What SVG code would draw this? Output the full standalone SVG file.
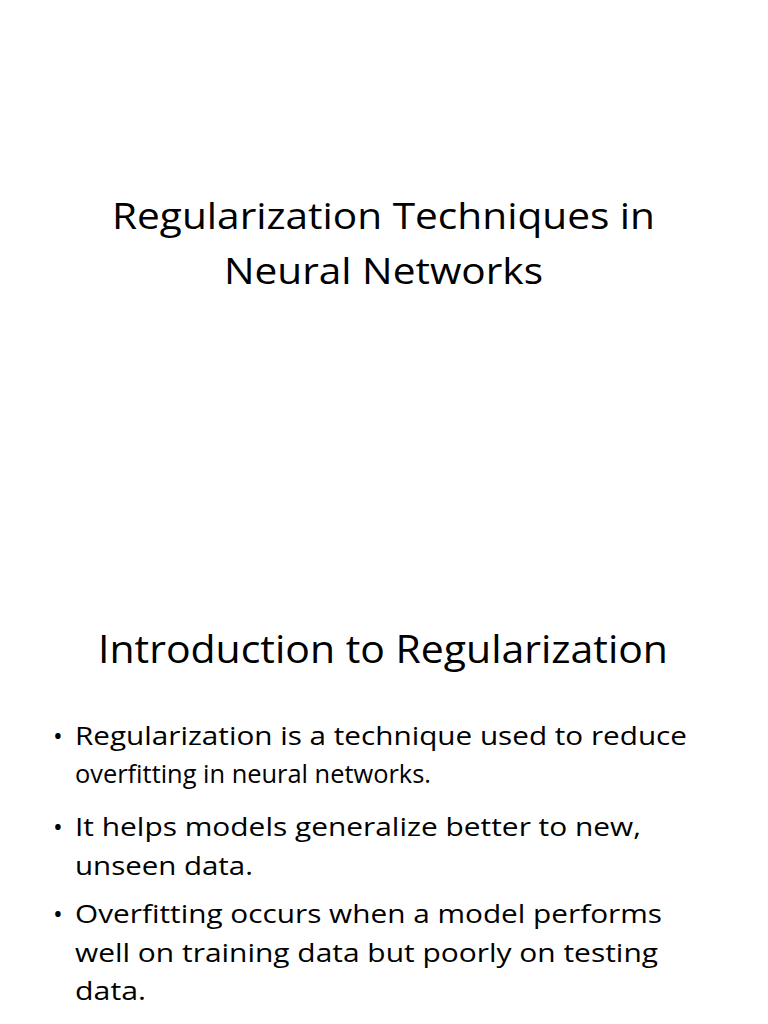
<svg xmlns="http://www.w3.org/2000/svg" width="768" height="1024" viewBox="0 0 768 1024">
<style>
text{font-family:"Open Sans","Liberation Sans",sans-serif;fill:#000}
.t{font-size:36px}
.h{font-size:38px}
.b{font-size:26px}
</style>
<rect width="768" height="1024" fill="#fff"/>
<g id="title">
<text class="t" x="112" y="229" textLength="543" lengthAdjust="spacingAndGlyphs">Regularization Techniques in</text>
<text class="t" x="224" y="284" textLength="319" lengthAdjust="spacingAndGlyphs">Neural Networks</text>
</g>
<g id="heading">
<text class="h" x="98" y="663" textLength="570" lengthAdjust="spacingAndGlyphs">Introduction to Regularization</text>
</g>
<g id="bullets">
<text class="b" x="53" y="745">•</text>
<text class="b" x="75" y="745" textLength="612" lengthAdjust="spacingAndGlyphs">Regularization is a technique used to reduce</text>
<text class="b" x="75" y="783" textLength="356" lengthAdjust="spacingAndGlyphs">overfitting in neural networks.</text>
<text class="b" x="53" y="836">•</text>
<text class="b" x="75" y="836" textLength="566" lengthAdjust="spacingAndGlyphs">It helps models generalize better to new,</text>
<text class="b" x="75" y="875" textLength="178" lengthAdjust="spacingAndGlyphs">unseen data.</text>
<text class="b" x="53" y="923">•</text>
<text class="b" x="75" y="923" textLength="587" lengthAdjust="spacingAndGlyphs">Overfitting occurs when a model performs</text>
<text class="b" x="75" y="962" textLength="583" lengthAdjust="spacingAndGlyphs">well on training data but poorly on testing</text>
<text class="b" x="75" y="1000" textLength="71" lengthAdjust="spacingAndGlyphs">data.</text>
</g>
</svg>
